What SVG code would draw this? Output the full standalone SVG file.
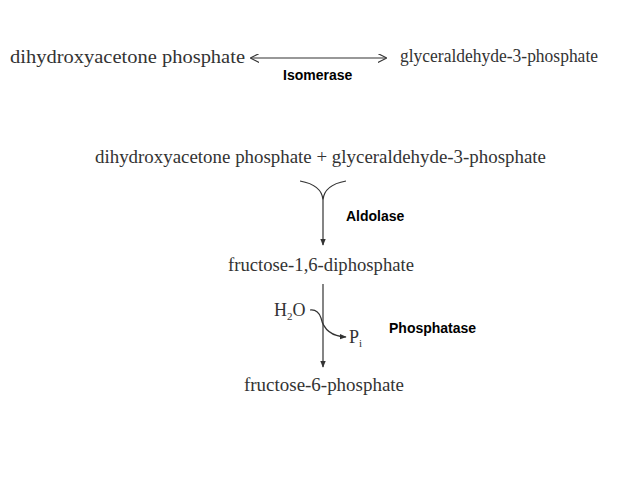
<svg xmlns="http://www.w3.org/2000/svg" width="638" height="478" viewBox="0 0 638 478">
<defs>
<marker id="ah" viewBox="0 0 10 10" refX="9" refY="5" markerWidth="7" markerHeight="7" markerUnits="userSpaceOnUse" orient="auto-start-reverse"><path d="M0,1 L10,5 L0,9 z" fill="#333"/></marker>
<marker id="oh" viewBox="0 0 10 10" refX="9" refY="5" markerWidth="9" markerHeight="9" markerUnits="userSpaceOnUse" orient="auto-start-reverse"><path d="M0,0 L10,5 L0,10" fill="none" stroke="#333" stroke-width="1.2"/></marker>
<style>
.s{font-family:"Liberation Serif",serif;font-size:18px;fill:#333}
.e{font-family:"Liberation Sans",sans-serif;font-size:14px;font-weight:bold;fill:#000}
.l{stroke:#333;stroke-width:1.2;fill:none}
</style>
</defs>
<rect width="638" height="478" fill="#fff"/>
<g id="dhap1"><text class="s" x="10" y="63" textLength="235" lengthAdjust="spacingAndGlyphs">dihydroxyacetone phosphate</text></g>
<g id="g3p1"><text class="s" x="400" y="62" textLength="198" lengthAdjust="spacingAndGlyphs">glyceraldehyde-3-phosphate</text></g>
<g id="isomerase"><text class="e" x="283" y="80">Isomerase</text></g>
<g id="reactants"><text class="s" x="95" y="163" textLength="451" lengthAdjust="spacingAndGlyphs">dihydroxyacetone phosphate + glyceraldehyde-3-phosphate</text></g>
<g id="aldolase"><text class="e" x="346" y="221">Aldolase</text></g>
<g id="f16"><text class="s" x="228" y="271" textLength="186" lengthAdjust="spacingAndGlyphs">fructose-1,6-diphosphate</text></g>
<g id="h2o"><text class="s" x="274" y="316" font-size="16">H<tspan font-size="11" dy="4">2</tspan><tspan dy="-4">O</tspan></text></g>
<g id="pi"><text class="s" x="349" y="343" font-size="16">P<tspan font-size="11" dy="4">i</tspan></text></g>
<g id="phosphatase"><text class="e" x="389" y="333">Phosphatase</text></g>
<g id="f6"><text class="s" x="244" y="391" textLength="160" lengthAdjust="spacingAndGlyphs">fructose-6-phosphate</text></g>
<g id="connectors">
<path class="l" d="M251,58 H386" marker-start="url(#oh)" marker-end="url(#oh)"/>
<path class="l" d="M300,181 Q322,185 323,200 Q324,185 346,181"/>
<path class="l" d="M323,200 V245" marker-end="url(#ah)"/>
<path class="l" d="M323,284 V367" marker-end="url(#ah)"/>
<path class="l" d="M310,310 Q318,309 321,318 Q325,336 346,337" marker-end="url(#ah)"/>
</g>
</svg>
